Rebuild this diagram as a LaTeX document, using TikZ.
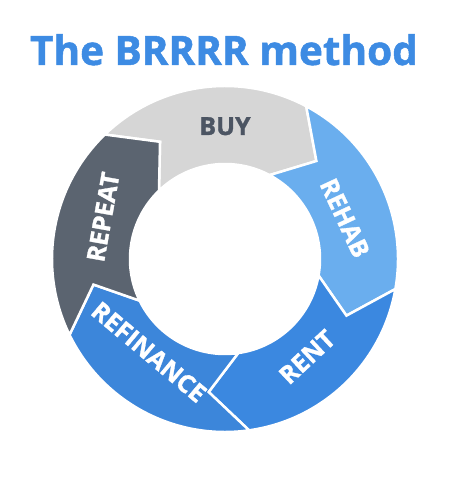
\documentclass[tikz,border=0pt]{standalone}
\usepackage{fontspec}
\setmainfont{Open Sans}[BoldFeatures={FakeBold=1.2}]
\definecolor{titleblue}{HTML}{3D8BE3}
\definecolor{buygray}{HTML}{D6D6D6}
\definecolor{buytext}{HTML}{4C5563}
\definecolor{repeatgray}{HTML}{5B6470}
\definecolor{rehabblue}{HTML}{6AAEEE}
\definecolor{rentblue}{HTML}{3B88E0}
\definecolor{refiblue}{HTML}{3C86DA}
\tikzset{
  segshape/.style={draw=white, line width=2.5pt, line join=miter},
  seglabel/.style={font=\bfseries\fontsize{25}{25}\selectfont, text=white, inner sep=0pt},
}
\newcommand\brseg[2]{%
  \pgfmathsetmacro\sA{#1}%
  \pgfmathsetmacro\sB{#1-72}%
  \pgfmathsetmacro\sT{#1-72-15}%
  \pgfmathsetmacro\sN{#1-15}%
  \path[segshape, fill=#2] (\sA:173pt) arc[start angle=\sA, end angle=\sB, radius=173pt]
    -- (\sT:134pt) -- (\sB:95pt) arc[start angle=\sB, end angle=\sA, radius=95pt]
    -- (\sN:134pt) -- cycle;}
\begin{document}
\begin{tikzpicture}[x=1pt,y=1pt]
\useasboundingbox[fill=white] (0,0) rectangle (474,488);
\node[anchor=base, text=titleblue, font=\bfseries\fontsize{40.5}{40.5}\selectfont, inner sep=0pt] (title) at (224,423) {The BRRRR method};
\begin{scope}[shift={(225,229)}]
\brseg{134}{buygray}
\brseg{62}{rehabblue}
\brseg{-10}{rentblue}
\brseg{-82}{refiblue}
\brseg{206}{repeatgray}
\end{scope}
\node[seglabel, text=buytext, anchor=base] (buy) at (225,353) {BUY};
\node[seglabel, rotate=80] (repeat) at (103,271) {REPEAT};
\node[seglabel, rotate=-65] (rehab) at (345,270) {REHAB};
\node[seglabel, rotate=43] (rent) at (307,131) {RENT};
\node[seglabel, rotate=-40] (refi) at (149,136) {REFINANCE};
\end{tikzpicture}
\end{document}
